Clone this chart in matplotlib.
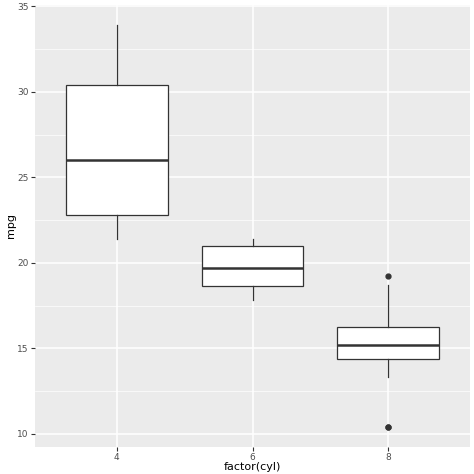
import matplotlib
matplotlib.use("Agg")
import matplotlib.pyplot as plt

# mtcars mpg grouped by cylinder count
cyl_labels = ["4", "6", "8"]
mpg_4 = [22.8, 24.4, 22.8, 32.4, 30.4, 33.9, 21.5, 27.3, 26.0, 30.4, 21.4]
mpg_6 = [21.0, 21.0, 21.4, 18.1, 19.2, 17.8, 19.7]
mpg_8 = [18.7, 14.3, 16.4, 17.3, 15.2, 10.4, 10.4, 14.7, 15.5, 15.2, 13.3, 19.2, 15.8, 15.0]

fig = plt.figure(figsize=(4.74, 4.74), dpi=100)
ax = fig.add_axes([35 / 474, 27 / 474, 435 / 474, 442 / 474])
ax.set_facecolor("#EBEBEB")

ax.boxplot(
    [mpg_4, mpg_6, mpg_8],
    positions=[1, 2, 3],
    widths=0.75,
    whis=1.5,
    patch_artist=True,
    boxprops=dict(facecolor="white", edgecolor="#333333", linewidth=0.9),
    medianprops=dict(color="#333333", linewidth=1.8),
    whiskerprops=dict(color="#333333", linewidth=0.9),
    capprops=dict(linewidth=0),
    flierprops=dict(marker="o", markerfacecolor="#333333", markeredgecolor="#333333", markersize=3.5),
    zorder=3,
)

ax.set_xlim(0.4, 3.6)
ax.set_ylim(9.225, 35.075)
ax.set_xticks([1, 2, 3])
ax.set_xticklabels(cyl_labels)
ax.set_yticks([10, 15, 20, 25, 30, 35])
ax.set_yticks([12.5, 17.5, 22.5, 27.5, 32.5], minor=True)
ax.grid(True, which="major", color="white", linewidth=1.1, zorder=0)
ax.grid(True, which="minor", axis="y", color="white", linewidth=0.5, zorder=0)
ax.set_axisbelow(True)
for s in ax.spines.values():
    s.set_visible(False)
ax.tick_params(which="major", colors="#333333", labelcolor="#4D4D4D", labelsize=6.5, length=3, pad=1.5)
ax.tick_params(which="minor", length=0)
ax.set_xlabel("factor(cyl)", fontsize=8, labelpad=0)
ax.set_ylabel("mpg", fontsize=8, labelpad=1)

fig.savefig("out.png", dpi=100)
